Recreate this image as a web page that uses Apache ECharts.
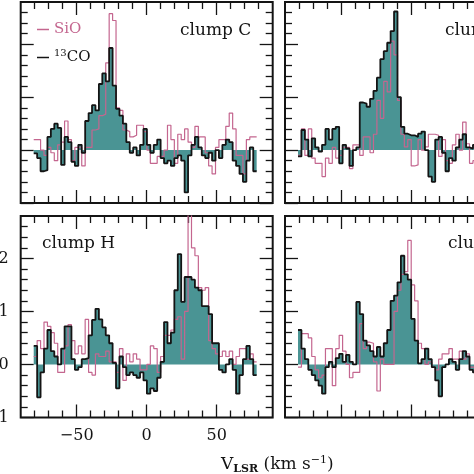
<!DOCTYPE html>
<html>
<head>
<meta charset="utf-8">
<title>SiO and 13CO spectra</title>
<script src="https://cdn.jsdelivr.net/npm/echarts@6/dist/echarts.min.js"></script>
<style>
  html, body { margin: 0; padding: 0; background: #fff; }
  #main { width: 474px; height: 474px; }
</style>
</head>
<body>
<div id="main"></div>
<script>
// channel centres (km/s)
var velocity = [-79.48, -77.03, -74.58, -72.13, -69.68, -67.23, -64.78, -62.33, -59.88, -57.43,
  -54.98, -52.53, -50.08, -47.63, -45.18, -42.73, -40.28, -37.83, -35.38, -32.93,
  -30.48, -28.03, -25.58, -23.13, -20.68, -18.23, -15.78, -13.33, -10.88, -8.43,
  -5.98, -3.53, -1.08, 1.37, 3.82, 6.27, 8.72, 11.17, 13.62, 16.07,
  18.52, 20.97, 23.42, 25.87, 28.32, 30.77, 33.22, 35.67, 38.12, 40.57,
  43.02, 45.47, 47.92, 50.37, 52.82, 55.27, 57.72, 60.17, 62.62, 65.07,
  67.52, 69.97, 72.42, 74.87, 77.32];

// clump C
var coC = [-0.06, -0.15, -0.4, -0.38, 0.25, 0.4, 0.5, 0.42, -0.28, 0.25,
  0.15, -0.22, -0.3, 0.1, -0.05, 0.55, 0.7, 0.85, 0.75, 1.25,
  1.45, 1.3, 1.93, 1.22, 0.78, 0.65, 0.5, 0.15, -0.05, 0.05,
  -0.1, 0.1, 0.4, 0.1, -0.05, 0.1, 0.2, -0.15, -0.25, -0.2,
  -0.3, -0.15, -0.1, -0.2, -0.8, -0.1, 0.1, 0.25, 0.05, -0.1,
  -0.15, -0.05, -0.2, 0.0, -0.15, 0.1, 0.2, 0.15, -0.2, -0.3,
  -0.45, -0.6, -0.2, 0.05, -0.4];
var sioC = [0.2, 0.2, 0.0, -0.1, 0.05, -0.05, -0.2, 0.1, 0.15, 0.55,
  0.2, -0.2, 0.05, 0.05, -0.3, 0.05, 0.05, 0.38, 0.4, 0.65,
  0.68, 1.65, 2.58, 2.45, 0.8, 0.75, 0.38, 0.35, 0.25, 0.28,
  0.47, 0.47, 0.35, 0.0, -0.25, -0.25, -0.12, -0.12, 0.0, 0.47,
  0.2, -0.25, 0.3, 0.2, 0.4, 0.15, 0.05, 0.45, 0.25, 0.25,
  -0.05, -0.3, -0.45, 0.05, 0.2, 0.2, 0.45, 0.7, 0.4, -0.1,
  -0.1, -0.45, 0.2, 0.25, 0.25];

// clump H
var coH = [0.35, -0.62, -0.15, 0.3, 0.65, 0.25, 0.15, 0.0, 0.3, 0.72,
  0.72, 0.1, -0.1, -0.05, 0.1, 0.12, 0.55, 0.84, 1.05, 0.85,
  0.7, 0.55, 0.4, 0.03, -0.45, 0.15, -0.05, -0.2, -0.15, -0.2,
  -0.25, -0.15, -0.3, -0.55, -0.45, -0.5, -0.25, 0.05, 0.8, 0.4,
  0.6, 1.4, 2.08, 1.18, 1.65, 1.65, 1.6, 1.45, 1.4, 1.1,
  1.1, 0.95, 0.4, 0.4, -0.1, -0.15, 0.0, 0.1, -0.1, -0.55,
  -0.2, 0.1, 0.35, 0.1, -0.2];
var sioH = [0.15, 0.45, 0.3, 0.8, 0.72, 0.6, 0.4, -0.15, -0.15, 0.35,
  0.75, 0.45, 0.2, 0.35, 0.2, 0.85, -0.15, -0.2, 0.2, 0.15,
  0.15, 0.25, 0.05, 0.05, -0.15, 0.3, -0.3, 0.2, 0.05, 0.2,
  0.1, -0.1, -0.1, 0.0, 0.35, 0.3, -0.15, 0.15, 0.55, 0.55,
  0.65, 0.85, 0.9, 0.1, 1.0, 3.2, 2.2, 2.05, 1.45, 1.4,
  1.45, 0.45, 0.3, 0.2, 0.15, 0.25, 0.15, 0.25, 0.0, 0.15,
  0.3, 0.3, 0.1, 0.2, 0.05];

// top-right clump (only the visible channels)
var coTR = [-0.12, 0.38, 0.2, -0.12, 0.22, 0.05, -0.03, 0.1, 0.4, 0.2,
  0.4, 0.44, -0.25, 0.1, 0.03, -0.3, 0.0, 0.05, 0.9, 0.88,
  0.82, 0.97, 1.12, 1.37, 1.72, 1.87, 2.03, 2.25, 2.62, 1.0,
  0.44, 0.31, 0.28, 0.28, 0.25, 0.31, 0.35, 0.0, -0.5, -0.6,
  0.2, 0.25, -0.05, -0.4, -0.15, -0.2, 0.05, 0.2, 0.3, 0.05,
  0.03, 0.1, 0.0];
var sioTR = [-0.1, 0.4, -0.1, 0.4, -0.15, -0.25, -0.25, -0.5, -0.15, -0.25,
  0.05, -0.15, -0.1, 0.05, 0.05, -0.35, 0.1, 0.1, -0.1, 0.25,
  0.25, -0.05, 0.3, 0.94, 0.6, 1.3, 1.1, 2.06, 1.8, 0.94,
  0.3, 0.06, 0.2, -0.3, -0.28, 0.2, 0.0, 0.06, 0.3, 0.3,
  0.28, -0.12, 0.2, -0.2, -0.25, 0.1, 0.3, 0.0, 0.53, 0.12,
  -0.25, -0.2, 0.05];

// bottom-right clump
var coBR = [0.65, 0.3, 0.1, -0.1, -0.2, -0.3, -0.4, -0.55, -0.05, 0.05,
  -0.05, 0.12, 0.2, 0.05, 0.18, 0.05, 0.0, 1.18, 0.95, 0.45,
  0.36, 0.25, 0.15, 0.33, 0.15, 0.4, 0.65, 1.2, 1.3, 1.55,
  2.05, 1.7, 1.6, 0.86, 0.45, 0.02, 0.1, 0.3, 0.1, -0.05,
  -0.3, -0.6, -0.05, 0.0, 0.1, 0.05, -0.1, 0.1, 0.25, 0.15,
  -0.1, -0.15, 0.0];
var sioBR = [-0.05, 0.58, 0.58, 0.5, 0.15, -0.1, -0.25, -0.2, 0.3, 0.3,
  -0.4, 0.3, 0.55, 0.25, 0.0, -0.25, -0.15, -0.15, 0.77, 0.3,
  0.42, 0.4, 0.05, -0.5, 0.1, 0.0, 0.0, 0.0, 1.0, 1.4,
  1.7, 1.75, 2.34, 1.5, 1.2, 0.4, 0.3, 0.0, 0.05, -0.05,
  -0.1, 0.1, 0.2, 0.2, 0.3, 0.1, 0.1, 0.25, 0.1, 0.2,
  -0.05, -0.05, 0.1];

var panelNames = ['clump C', 'clump D', 'clump H', 'clump I'];
var xMajor = [-50, 0, 50];
var xMinor = [-80, -70, -60, -40, -30, -20, -10, 10, 20, 30, 40, 60, 70, 80];
var yMajor = [-1, 0, 1, 2];
var yMinor = [-0.8, -0.6, -0.4, -0.2, 0.2, 0.4, 0.6, 0.8, 1.2, 1.4, 1.6, 1.8, 2.2, 2.4, 2.6];

var font = 'DejaVu Serif';
var teal = '#4a9494', pink = '#c4668f', ink = '#141414';

var myChart = echarts.init(document.getElementById('main'));

var panels = [
  { co: coC, sio: sioC, grid: { left: 20.7, top: 2, width: 252, height: 201 }, label: [180, 22] },
  { co: coTR, sio: sioTR, grid: { left: 285, top: 2, width: 252, height: 201 }, label: [445, 22] },
  { co: coH, sio: sioH, grid: { left: 20.7, top: 216, width: 252, height: 201.5 }, label: [42, 235] },
  { co: coBR, sio: sioBR, grid: { left: 285, top: 216, width: 252, height: 201.5 }, label: [448, 235] }
];

// histogram outline: each channel drawn flat across its width
function histo(values) {
  var half = (velocity[1] - velocity[0]) / 2;
  var pts = [];
  for (var i = 0; i < values.length; i++) {
    pts.push([velocity[i] - half, values[i]]);
    pts.push([velocity[i] + half, values[i]]);
  }
  return pts;
}

function minusFmt(v) {
  return v < 0 ? '\u2212' + (-v) : String(v);
}

function xAxisOf(g, pos, ticks, len, withLabels) {
  return {
    type: 'value', gridIndex: g, position: pos, min: -90, max: 90,
    axisLine: { show: false, onZero: false }, splitLine: { show: false },
    axisTick: { inside: true, length: len, customValues: ticks, lineStyle: { color: ink, width: 1.3 } },
    axisLabel: withLabels ? {
      customValues: ticks, margin: 10, formatter: minusFmt,
      fontFamily: font, fontSize: 16, color: ink
    } : { show: false }
  };
}

function yAxisOf(g, pos, ticks, len, withLabels) {
  return {
    type: 'value', gridIndex: g, position: pos, min: -1, max: 2.8,
    axisLine: { show: false, onZero: false }, splitLine: { show: false },
    axisTick: { inside: true, length: len, customValues: ticks, lineStyle: { color: ink, width: 1.3 } },
    axisLabel: withLabels ? {
      customValues: ticks, margin: 12, formatter: minusFmt,
      fontFamily: font, fontSize: 16, color: ink
    } : { show: false }
  };
}

var grids = [], xAxes = [], yAxes = [], series = [], titles = [];
panels.forEach(function (p, g) {
  grids.push(Object.assign({
    show: true, borderColor: ink, borderWidth: 2, backgroundColor: 'transparent',
    containLabel: false, outerBoundsMode: 'none'
  }, p.grid));
  var lbl = g === 2;
  xAxes.push(xAxisOf(g, 'bottom', xMajor, 13, lbl));
  xAxes.push(xAxisOf(g, 'bottom', xMinor, 7, false));
  xAxes.push(xAxisOf(g, 'top', xMajor, 13, false));
  xAxes.push(xAxisOf(g, 'top', xMinor, 7, false));
  yAxes.push(yAxisOf(g, 'left', yMajor, 13, lbl));
  yAxes.push(yAxisOf(g, 'left', yMinor, 7, false));
  yAxes.push(yAxisOf(g, 'right', yMajor, 13, false));
  yAxes.push(yAxisOf(g, 'right', yMinor, 7, false));

  var xi = g * 4, yi = g * 4;
  series.push({
    type: 'line', name: 'fill', xAxisIndex: xi, yAxisIndex: yi, data: histo(p.co),
    showSymbol: false, silent: true, z: 1,
    lineStyle: { width: 0 }, areaStyle: { color: teal, opacity: 1 }
  });
  series.push({
    type: 'line', name: 'SiO', xAxisIndex: xi, yAxisIndex: yi, data: histo(p.sio),
    showSymbol: false, silent: true, z: 2, color: pink,
    lineStyle: { color: pink, width: 1.2 }
  });
  series.push({
    type: 'line', name: '13CO', xAxisIndex: xi, yAxisIndex: yi, data: histo(p.co),
    showSymbol: false, silent: true, z: 3, color: ink,
    lineStyle: { color: ink, width: 1.8 }
  });

  titles.push({
    text: panelNames[g], left: p.label[0], top: p.label[1], padding: 0,
    textStyle: { fontFamily: font, fontSize: 17, fontWeight: 'normal', color: ink }
  });
});

titles.push({
  text: '{v|V}{s|LSR}{v| (km s}{p|\u22121}{v|)}',
  left: 221, top: 454, padding: 0,
  textStyle: {
    fontWeight: 'normal',
    rich: {
      v: { fontFamily: font, fontSize: 17, fontWeight: 'normal', color: ink },
      s: { fontFamily: font, fontSize: 11, fontWeight: 'bold', color: ink, padding: [10, 0, 0, 0] },
      p: { fontFamily: font, fontSize: 11, fontWeight: 'normal', color: ink, padding: [0, 0, 9, 0] }
    }
  }
});

var option = {
  backgroundColor: '#fff',
  animation: false,
  title: titles,
  legend: {
    orient: 'vertical', left: 37, top: 22, padding: 0, itemGap: 11,
    itemWidth: 12, itemHeight: 1.5, icon: 'rect', selectedMode: false,
    data: [
      { name: 'SiO', textStyle: { color: pink } },
      { name: '13CO', textStyle: { color: ink } }
    ],
    formatter: function (n) { return n === '13CO' ? '{sup|13}{n|CO}' : n; },
    textStyle: {
      fontFamily: font, fontSize: 15,
      rich: {
        sup: { fontFamily: font, fontSize: 10, color: ink, padding: [0, 0, 9, 0] },
        n: { fontFamily: font, fontSize: 15, color: ink }
      }
    }
  },
  grid: grids,
  xAxis: xAxes,
  yAxis: yAxes,
  series: series
};
myChart.setOption(option);
</script>
</body>
</html>
